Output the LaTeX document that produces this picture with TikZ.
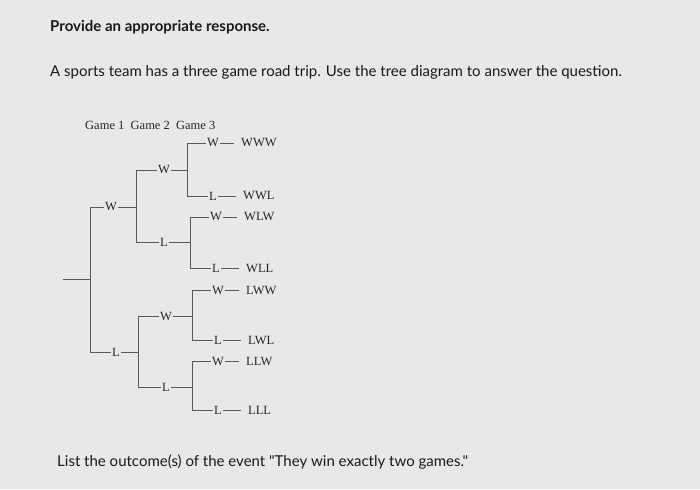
\documentclass[tikz,border=0pt]{standalone}
\usepackage{fontspec}
\setmainfont{Liberation Serif}
\newfontfamily\uifont{Lato}
\begin{document}
\begin{tikzpicture}[x=1pt,y=-1pt,
  lab/.style={font=\fontsize{12.5}{12.5}\selectfont, inner sep=1pt, text=black!85},
  ln/.style={draw=black!65, line width=0.9pt},
  ui/.style={font=\uifont\fontsize{15}{15}\selectfont, anchor=west, inner sep=0pt, text=black!90}]
\fill[black!9] (0,0) rectangle (700,489);
\useasboundingbox (0,0) rectangle (700,489);
\node[ui, font=\uifont\bfseries\fontsize{15}{15}\selectfont] (t1) at (50,27) {Provide an appropriate response.};
\node[ui] (t2) at (50,72) {A sports team has a three game road trip. Use the tree diagram to answer the question.};
\node[ui] (t3) at (57,462) {List the outcome(s) of the event "They win exactly two games."};
\node[lab, anchor=west, inner sep=0pt] (hdr) at (85,125) {Game 1 \ Game 2 \ Game 3};
% root
\coordinate (r0) at (63,279);
\coordinate (v0) at (90,279);
\coordinate (v0t) at (90,207);
\coordinate (v0b) at (90,352);
\draw[ln] (r0) -- (v0);
\draw[ln] (v0t) -- (v0b);
\node[lab] (g1w) at (111,207) {W};
\node[lab] (g1l) at (116,352) {L};
\draw[ln] (v0t) -- (g1w.west);
\draw[ln] (v0b) -- (g1l.west);
% game 2 verticals
\coordinate (v1t) at (136,170); \coordinate (v1b) at (136,242);
\coordinate (v1a) at (136,207);
\coordinate (v2t) at (138,316); \coordinate (v2b) at (138,387);
\coordinate (v2a) at (138,352);
\draw[ln] (g1w.east) -- (v1a); \draw[ln] (v1t) -- (v1b);
\draw[ln] (g1l.east) -- (v2a); \draw[ln] (v2t) -- (v2b);
\node[lab] (g2ww) at (164,170) {W};
\node[lab] (g2wl) at (164,242) {L};
\node[lab] (g2lw) at (166,316) {W};
\node[lab] (g2ll) at (166,387) {L};
\draw[ln] (v1t) -- (g2ww.west); \draw[ln] (v1b) -- (g2wl.west);
\draw[ln] (v2t) -- (g2lw.west); \draw[ln] (v2b) -- (g2ll.west);
% game 3
\foreach \n/\vx/\ya/\yt/\yb/\ot/\ob in {g2ww/187/170/143/196/WWW/WWL, g2wl/190/242/217/268/WLW/WLL, g2lw/192/316/290/340/LWW/LWL, g2ll/192/387/361/410/LLW/LLL}{
  \coordinate (\n a) at (\vx,\ya);
  \coordinate (\n t) at (\vx,\yt);
  \coordinate (\n b) at (\vx,\yb);
  \draw[ln] (\n.east) -- (\n a);
  \draw[ln] (\n t) -- (\n b);
  \node[lab] (\n W) at (\vx+26,\yt) {W};
  \node[lab] (\n L) at (\vx+26,\yb) {L};
  \draw[ln] (\n t) -- (\n W.west);
  \draw[ln] (\n b) -- (\n L.west);
  \node[lab, anchor=west] (\n OW) at (\vx+53,\yt) {\ot};
  \node[lab, anchor=west] (\n OL) at (\vx+55,\yb) {\ob};
  \draw[ln, shorten >=6pt] (\n W.east) -- (\n OW.west);
  \draw[ln, shorten >=6pt] (\n L.east) -- (\n OL.west);
}
\end{tikzpicture}
\end{document}
